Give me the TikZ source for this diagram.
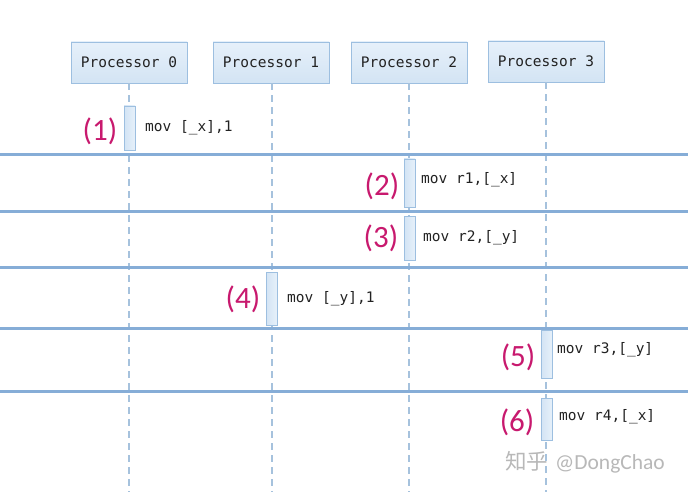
\documentclass[tikz,border=0pt]{standalone}
\usepackage{fontspec}
\newfontfamily\codefont{DejaVu Sans Mono}
\newfontfamily\numfont{Carlito}
\newfontfamily\cjk{Noto Sans CJK SC}
\definecolor{boxfill}{HTML}{D3E4F4}
\definecolor{boxtop}{HTML}{E6F0FA}
\definecolor{boxline}{HTML}{9DBFE0}
\definecolor{sepline}{HTML}{86ADD7}
\definecolor{lifeline}{HTML}{A6C2DD}
\definecolor{labelmag}{HTML}{C8196E}
\definecolor{codecol}{HTML}{222222}
\begin{document}
\begin{tikzpicture}[x=1pt,y=-1pt,
  procbox/.style={draw=boxline, line width=0.8pt, top color=boxtop, bottom color=boxfill,
    minimum width=116pt, minimum height=41pt, inner sep=0pt, font=\codefont\fontsize{14.5}{16}\selectfont, text=codecol},
  life/.style={draw=lifeline, line width=1.2pt, dash pattern=on 7pt off 5pt},
  sep/.style={draw=sepline, line width=3pt},
  actbar/.style={draw=boxline, line width=0.8pt, left color=boxfill, right color=boxtop,
    minimum width=11pt, inner sep=0pt},
  steplabel/.style={font=\numfont\fontsize{31}{34}\selectfont, text=labelmag, inner sep=0pt},
  codetext/.style={font=\codefont\fontsize{14.5}{16}\selectfont, text=codecol, anchor=west, inner sep=0pt}
]
\useasboundingbox (0,0) rectangle (688,492);
\fill[white] (0,0) rectangle (688,492);

% processor boxes
\node[procbox] (p0) at (129,62.5) {Processor 0};
\node[procbox] (p1) at (271,62.5) {Processor 1};
\node[procbox] (p2) at (409,62.5) {Processor 2};
\node[procbox] (p3) at (546,61.5) {Processor 3};

% lifeline ends
\coordinate (e0) at (129,492);
\coordinate (e1) at (272,492);
\coordinate (e2) at (409,492);
\coordinate (e3) at (546,492);
\draw[life] (p0.south) -- (e0);
\draw[life] (p1.south -| e1) -- (e1);
\draw[life] (p2.south) -- (e2);
\draw[life] (p3.south) -- (e3);

% separators
\foreach \i/\y in {a/155,b/211,c/267,d/328,e/391}{
  \coordinate (\i L) at (0,\y);
  \coordinate (\i R) at (688,\y);
  \draw[sep] (\i L) -- (\i R);
}

% activation bars
\node[actbar, minimum height=44pt] (b1) at (129.5,128) {};
\node[actbar, minimum height=48pt] (b2) at (409.5,183) {};
\node[actbar, minimum height=44pt] (b3) at (409.5,238) {};
\node[actbar, minimum height=53pt] (b4) at (271.5,298.5) {};
\node[actbar, minimum height=48pt] (b5) at (546.5,354) {};
\node[actbar, minimum height=42pt] (b6) at (546.5,419) {};

% step labels
\node[steplabel] (l1) at (100,131) {(1)};
\node[steplabel] (l2) at (382,186) {(2)};
\node[steplabel] (l3) at (381,238) {(3)};
\node[steplabel] (l4) at (243,299) {(4)};
\node[steplabel] (l5) at (518,357) {(5)};
\node[steplabel] (l6) at (517,422) {(6)};

% code
\node[codetext] (c1) at (145,128) {mov [\_x],1};
\node[codetext] (c2) at (421,180) {mov r1,[\_x]};
\node[codetext] (c3) at (423,238) {mov r2,[\_y]};
\node[codetext] (c4) at (287,299) {mov [\_y],1};
\node[codetext] (c5) at (557,350) {mov r3,[\_y]};
\node[codetext] (c6) at (559,417) {mov r4,[\_x]};

% watermark
\node[anchor=west, inner sep=0pt, text=black!28, font=\fontsize{21.5}{24}\selectfont] (wm) at (505,462) {{\cjk 知乎}\hspace{7pt}{\numfont @DongChao}};
\end{tikzpicture}
\end{document}
